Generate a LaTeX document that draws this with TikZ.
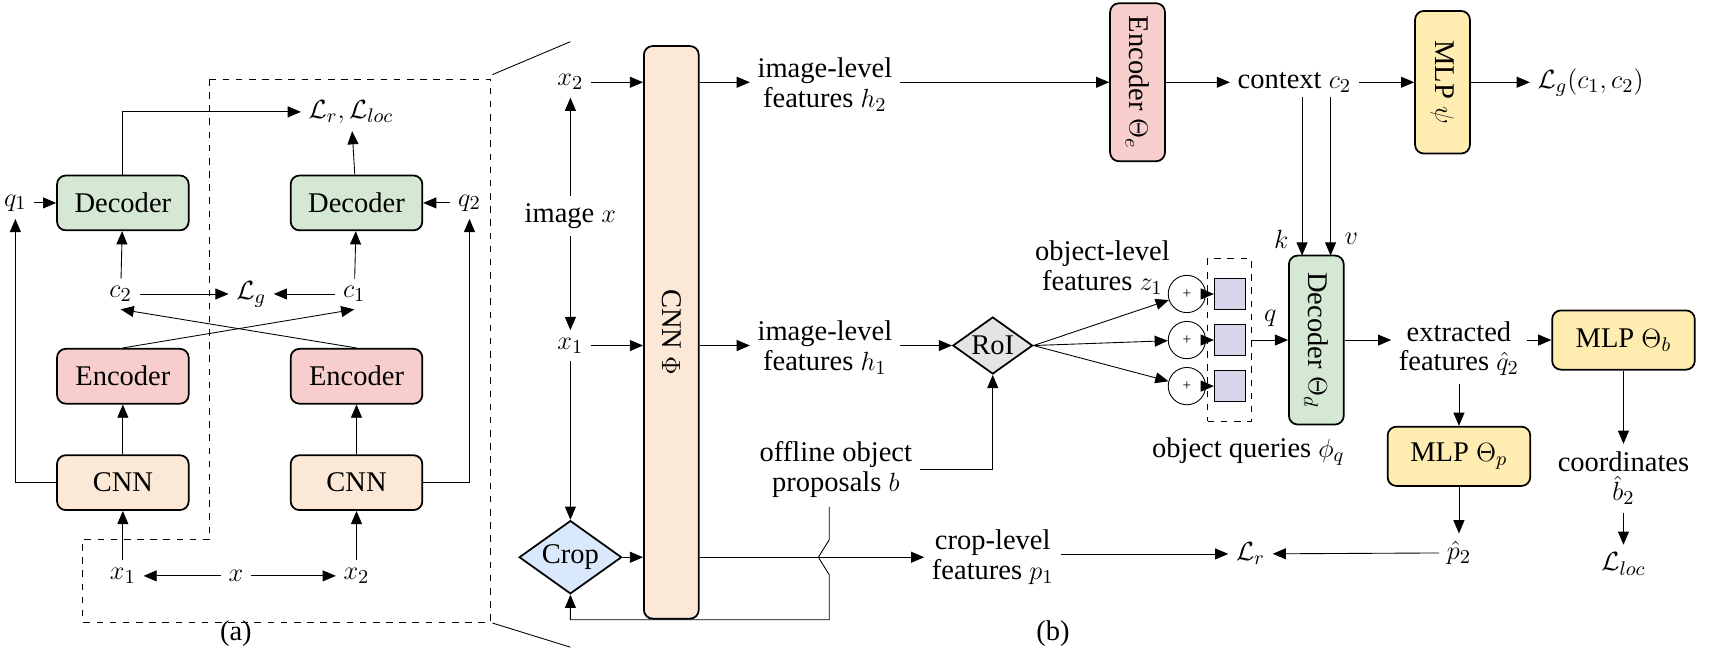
\documentclass[tikz,border=0pt]{standalone}
\usepackage{fontspec}
\setmainfont{Liberation Serif}
\usetikzlibrary{shapes.geometric,arrows.meta}
\definecolor{cgreen}{RGB}{213,232,212}
\definecolor{cpink}{RGB}{248,206,204}
\definecolor{cpeach}{RGB}{252,232,214}
\definecolor{cyel}{RGB}{255,236,176}
\definecolor{cblue}{RGB}{218,232,252}
\definecolor{cgray}{RGB}{228,228,228}
\definecolor{cpurp}{RGB}{217,212,234}
\begin{document}
\begin{tikzpicture}[x=0.5pt,y=-0.5pt,
  every node/.style={font=\fontsize{13}{13.5}\selectfont,align=center},
  >={Triangle[length=6pt,width=5pt]},
  box/.style={draw,thick,rounded corners=4pt,minimum width=60pt,minimum height=25pt},
  vbox/.style={draw,thick,rounded corners=4pt,minimum width=25pt,inner sep=0pt},
  dia/.style={draw,thick,diamond,aspect=1.4,inner sep=1pt},
  plus/.style={draw,circle,minimum size=17pt,inner sep=0pt,font=\scriptsize},
  sq/.style={draw,fill=cpurp,minimum size=14pt,inner sep=0pt}]
\useasboundingbox (0,0) rectangle (1568,597);
% ---------- (a)
\node[box,fill=cgreen] (decl) at (112,185) {Decoder};
\node[box,fill=cgreen] (decr) at (325,185) {Decoder};
\node[box,fill=cpink] (encl) at (112,343) {Encoder};
\node[box,fill=cpink] (encr) at (325,343) {Encoder};
\node[box,fill=cpeach] (cnnl) at (112,440) {CNN};
\node[box,fill=cpeach] (cnnr) at (325,440) {CNN};
\node (q1) at (14,185) {$q_1$};
\node (q2) at (428,185) {$q_2$};
\node (lrl) at (320,102) {$\mathcal{L}_r,\mathcal{L}_{loc}$};
\node (c2) at (110,268) {$c_2$};
\node (lg) at (229,268) {$\mathcal{L}_g$};
\node (c1) at (323,268) {$c_1$};
\node (xa1) at (112,525) {$x_1$};
\node (xa) at (215,525) {$x$};
\node (xa2) at (325,525) {$x_2$};
\node at (215,578) {(a)};
\draw[->] (q1) -- (decl);
\draw[->] (q2) -- (decr);
\draw[->] (decl.north) |- (lrl.west);
\draw[->] (decr) -- (lrl);
\draw[->] (c2) -- (decl);
\draw[->] (c1) -- (decr);
\draw[->] (c2) -- (lg);
\draw[->] (c1) -- (lg);
\draw[->] (encl.north) -- (c1.south);
\draw[->] (encr.north) -- (c2.south);
\draw[->] (cnnl) -- (encl);
\draw[->] (cnnr) -- (encr);
\draw[->] (xa1) -- (cnnl);
\draw[->] (xa2) -- (cnnr);
\draw[->] (xa) -- (xa1);
\draw[->] (xa) -- (xa2);
\draw[->] (cnnl.west) -| (q1.south);
\draw[->] (cnnr.east) -| (q2.south);
\draw[dashed] (191,72) -- (447,72) -- (447,567) -- (75,567) -- (75,492) -- (191,492) -- cycle;
\draw (449,68) -- (520,38);
\draw (449,568) -- (520,590);
% ---------- (b)
\node (x2) at (520,75) {$x_2$};
\node (imx) at (520,197) {image $x$};
\node (x1) at (520,315) {$x_1$};
\node[dia,fill=cblue] (crop) at (520,508) {Crop};
\node[vbox,fill=cpeach,minimum height=261pt] (cnn) at (612,303) {};
\node[rotate=-90] at (cnn) {CNN $\Phi$};
\node (h2) at (752,77) {image-level\\features $h_2$};
\node (h1) at (752,317) {image-level\\features $h_1$};
\node (off) at (762,428) {offline object\\proposals $b$};
\node (p1) at (905,508) {crop-level\\features $p_1$};
\node[dia,fill=cgray] (roi) at (905,315) {RoI};
\node[vbox,fill=cpink,minimum height=72pt] (enc) at (1037,75) {};
\node[rotate=-90] at (enc) {Encoder $\Theta_e$};
\node (ctx) at (1180,75) {context $c_2$};
\node[vbox,fill=cyel,minimum height=65pt] (mlpg) at (1315,75) {};
\node[rotate=-90] at (mlpg) {MLP $\psi$};
\node (lgb) at (1450,75) {$\mathcal{L}_g(c_1,c_2)$};
\node (z1) at (1005,244) {object-level\\features $z_1$};
\node[plus] (p_a) at (1082,268) {+};
\node[plus] (p_b) at (1082,310) {+};
\node[plus] (p_c) at (1082,352) {+};
\node[sq] (s_a) at (1121,268) {};
\node[sq] (s_b) at (1121,310) {};
\node[sq] (s_c) at (1121,352) {};
\node[draw,dashed,minimum width=20pt,minimum height=74pt] (qbox) at (1121,310) {};
\node (phq) at (1138,412) {object queries $\phi_q$};
\node[vbox,fill=cgreen,minimum height=77pt] (dec) at (1200,310) {};
\node[rotate=-90] at (dec) {Decoder $\Theta_d$};
\node (kk) at (1168,218) {$k$};
\node (vv) at (1232,218) {$v$};
\node (qq) at (1158,290) {$q$};
\node (ext) at (1330,318) {extracted\\features $\hat{q}_2$};
\node[box,fill=cyel,minimum width=65pt,minimum height=27pt] (mlpb) at (1480,310) {MLP $\Theta_b$};
\node[box,fill=cyel,minimum width=65pt,minimum height=27pt] (mlpp) at (1330,416) {MLP $\Theta_p$};
\node (coord) at (1480,436) {coordinates\\$\hat{b}_2$};
\node (lloc) at (1480,514) {$\mathcal{L}_{loc}$};
\node (hp2) at (1330,504) {$\hat{p}_2$};
\node (lr) at (1140,505) {$\mathcal{L}_r$};
\node at (960,578) {(b)};
\coordinate (jt) at (756,462);
\coordinate (jb) at (756,565);
\draw[->] (x2) -- (x2 -| cnn.west);
\draw[->] (x1) -- (x1 -| cnn.west);
\draw[->] (crop) -- (crop -| cnn.west);
\draw[->] (imx) -- (x2);
\draw[->] (imx) -- (x1);
\draw[->] (x1) -- (crop);
\draw[->] (cnn.east |- x2) -- (h2.west |- x2);
\draw[->] (cnn.east |- x1) -- (h1.west |- x1);
\draw[->] (cnn.east |- crop) -- (p1.west |- crop);
\draw[->] (h2.east |- x2) -- (enc.west);
\draw[->] (h1.east |- x1) -- (roi);
\draw[->] (off.east) -| (roi.south);
\draw[->] (jt) -- (756,492) -- (746,508) -- (756,524) -- (jb) -| (crop.south);
\draw[->] (enc) -- (ctx);
\draw[->] (ctx) -- (mlpg);
\draw[->] (mlpg) -- (lgb);
\draw[->] (roi.east) -- (p_a);
\draw[->] (roi.east) -- (p_b);
\draw[->] (roi.east) -- (p_c);
\draw[->] (p_a) -- (s_a);
\draw[->] (p_b) -- (s_b);
\draw[->] (p_c) -- (s_c);
\draw[->] (qbox.east) -- (dec.west);
\draw[->] (1187,88) -- (1187,233);
\draw[->] (1213,88) -- (1213,233);
\draw[->] (dec.east) -- (ext.west |- dec);
\draw[->] (ext.east |- mlpb) -- (mlpb.west);
\draw[->] (ext.south) -- (mlpp.north);
\draw[->] (mlpp.south) -- (hp2.north);
\draw[->] (mlpb.south) -- (coord.north);
\draw[->] (coord.south) -- (lloc.north);
\draw[->] (hp2) -- (lr);
\draw[->] (p1.east |- lr) -- (lr);
\end{tikzpicture}
\end{document}
